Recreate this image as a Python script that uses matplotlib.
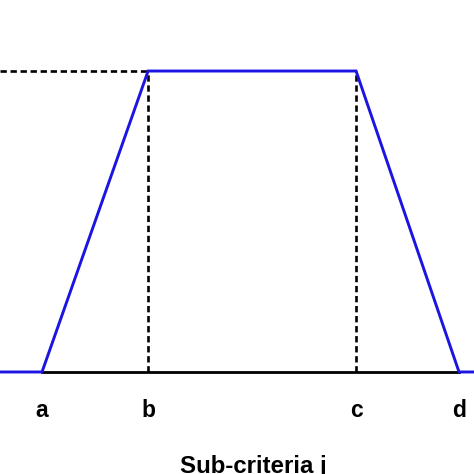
import matplotlib
matplotlib.use("Agg")
import matplotlib.pyplot as plt

# trapezoidal fuzzy number (a, b, c, d)
labels = ["a", "b", "c", "d"]
xs = [1.0, 2.02, 4.02, 5.01]
mu = [0.0, 1.0, 1.0, 0.0]
xlabel = "Sub-criteria j"

plt.rcParams["font.family"] = ["Liberation Sans", "DejaVu Sans"]

fig = plt.figure(figsize=(4.74, 4.74), dpi=100)
ax = fig.add_axes([0, 0, 1, 1])
xmin, xmax = 0.596, 5.154
ymin, ymax = -0.339, 1.236
ax.set_xlim(xmin, xmax)
ax.set_ylim(ymin, ymax)
ax.axis("off")

a, b, c, d = xs
# membership function
ax.plot([xmin] + xs + [xmax], [0] + mu + [0], color="#1c14e0", lw=2.1,
        solid_joinstyle="miter", zorder=3)
# baseline between a and d
ax.plot([a, d], [0, 0], color="black", lw=2.0, zorder=2)
# guide lines
dash = dict(color="black", lw=1.9, ls=(0, (2.4, 1.4)), zorder=1)
ax.plot([xmin, b], [1, 1], **dash)
ax.plot([b, b], [0, 1], **dash)
ax.plot([c, c], [0, 1], **dash)

for lab, x in zip(labels, xs):
    ax.text(x, -0.128, lab, ha="center", va="center", fontsize=16.5,
            fontweight="bold")
ax.text(3.03, -0.314, xlabel, ha="center", va="center", fontsize=17.3,
        fontweight="bold")

fig.savefig("out.png", dpi=100)
